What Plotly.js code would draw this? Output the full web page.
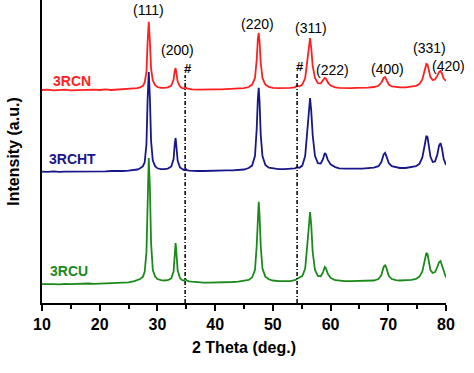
<!DOCTYPE html>
<html><head><meta charset="utf-8">
<script src="https://cdn.plot.ly/plotly-3.0.1.min.js"></script>
<style>html,body{margin:0;padding:0;background:#fff}#chart{width:474px;height:373px}</style>
</head><body><div id="chart"></div>
<script>
// 2 Theta grid (deg.)
const twoTheta = [10,11,12,13,14,15,16,17,18,19,20,21,22,23,24,25,26,26.5,27,27.5,27.8,28.1,28.3,28.5,28.7,28.9,29.2,29.6,30,30.6,31.2,31.8,32.4,32.8,33.0,33.15,33.3,33.5,33.9,34.3,34.6,34.85,35.1,35.5,36,37,38,39,40,41,42,43,44,45,45.8,46.4,46.9,47.2,47.4,47.55,47.7,47.9,48.2,48.7,49.3,50,51,52,53,53.8,54.2,54.6,55.1,55.6,55.95,56.25,56.45,56.65,56.9,57.3,57.8,58.3,58.7,59.0,59.2,59.5,60,60.8,61.5,62.5,63.5,64.5,65.5,66.5,67.5,68.3,68.8,69.2,69.45,69.7,70.1,70.6,71.3,72,73,74,74.8,75.4,75.9,76.3,76.6,76.8,77.0,77.3,77.7,78.1,78.5,78.8,79.05,79.3,79.6,80];

// Intensities (a.u., stacked as plotted)
const rcn = [71.0,71.1,70.9,71.0,71.1,70.9,71.0,71.1,71.0,71.1,71.0,71.2,71.0,71.1,71.2,71.3,71.4,71.6,71.9,72.4,73.6,77,87,93.7,87,78,74.2,72.6,72.0,71.7,71.7,71.9,72.5,74.5,77.5,78.3,76.5,73.8,72.2,71.6,71.5,72.0,71.5,71.3,71.2,71.1,71.2,71.1,71.2,71.2,71.3,71.3,71.4,71.6,72.0,72.8,75,81,88,90,87,80,75,72.8,72.0,71.7,71.6,71.6,71.7,71.9,72.4,72.2,72.8,75,81,87,88.3,85,79,75,73.3,73.2,74.2,75.0,74.8,73.6,72.5,71.9,71.7,71.6,71.6,71.7,71.7,71.8,72.0,72.4,73.5,75,75.3,74.4,72.8,72.2,72.0,71.9,71.9,72.1,72.4,73,74.5,77.5,79.7,79.5,77.5,75.3,74.3,74.5,75.8,77.0,77.3,76.5,74.8,74.0];
const rcht = [43.8,43.7,43.9,43.7,43.8,43.8,43.7,43.9,43.8,43.9,43.8,43.9,44.0,43.9,44.0,44.1,44.3,44.5,44.9,45.6,47,53,68,77,68,54,47.5,45.6,44.9,44.6,44.6,44.8,45.5,48,53,55,52,47.5,45.2,44.5,44.3,44.8,44.3,44.1,44.0,44.0,44.0,44.1,44.1,44.1,44.2,44.2,44.3,44.5,45.0,45.8,49,58,68,71.7,67,56,49,46,45.1,44.8,44.6,44.6,44.7,44.9,45.2,45.1,45.8,49,57,66,68.3,64,56,49,46.6,46.5,48,50,49.6,47.8,46.2,45.3,44.9,44.8,44.7,44.8,44.8,44.9,45.1,45.6,47,49.5,50,48.8,46.6,45.6,45.2,45.0,45.0,45.2,45.6,46.4,48.5,52.5,55.7,55.3,52.5,48.8,47.0,47.2,49.5,52.5,53.3,51.5,48,46.0];
const rcu = [6.3,6.4,6.3,6.2,6.4,6.3,6.4,6.3,6.5,6.4,6.5,6.5,6.6,6.7,6.8,6.9,7.3,7.6,8.0,8.8,10.5,17,35,48.3,38,20,11,8.8,8.0,7.6,7.5,7.6,8.2,10.5,16,20,16.5,11,8.3,7.6,7.5,8.0,7.5,7.2,7.1,6.9,6.8,6.8,6.8,6.8,6.9,7.0,7.1,7.3,7.7,8.5,11,19,30,33.7,29,19,11.5,8.8,7.9,7.5,7.3,7.2,7.3,7.6,8.2,8.5,9.0,11.5,19,28,30.3,26,17,11,9.0,8.9,10.3,12,11.6,9.8,8.4,7.6,7.4,7.3,7.3,7.3,7.3,7.4,7.5,8.0,9.3,12,12.7,11.5,9.0,8.0,7.6,7.5,7.5,7.7,8.0,8.8,10.5,14,16.7,16.3,14,11,10,10.3,12,13.6,14,12.5,10.5,8.5];

const sampleNames = ['3RCN','3RCHT','3RCU'];
const sampleColors = ['#ff1f1f','#17178a','#1b8a1b'];
const sampleLabelX = [15.2,15.2,14.6];
const sampleLabelY = [74,48,10.7];

const hklLabels = ['(111)','(200)','(220)','(311)','(222)','(400)','(331)','(420)'];
const hklX = [28.5,33.4,47.4,56.6,60.25,69.8,77.2,80.35];
const hklY = [97.7,84.3,93,91.7,77.7,78,85,79];

const impurityPeaks = [34.8,54.2];
const impurityTop = [76,77];
const impurityMarkY = [78.3,79];

const xRange = [10,80];
const font = 'Arial, "Liberation Sans", Helvetica, sans-serif';
const series = [rcn, rcht, rcu];
const traces = series.map((y,i)=>({x:twoTheta,y:y,type:'scatter',mode:'lines',
  line:{color:sampleColors[i],width:1.8},name:sampleNames[i],showlegend:false,hoverinfo:'skip'}));

const toPaperX = v => (v - xRange[0]) / (xRange[1] - xRange[0]);
const annotations = [];
sampleNames.forEach((n,i)=>annotations.push({x:sampleLabelX[i],y:sampleLabelY[i],xref:'x',yref:'y',text:n,showarrow:false,
  xanchor:'center',yanchor:'middle',font:{family:font,size:14,color:sampleColors[i],weight:'bold'}}));
hklLabels.forEach((t,i)=>annotations.push({x:toPaperX(hklX[i]),y:hklY[i],xref:'paper',yref:'y',text:t,showarrow:false,
  xanchor:'center',yanchor:'middle',font:{family:font,size:14,color:'#000'}}));
impurityPeaks.forEach((p,i)=>annotations.push({x:p+0.5,y:impurityMarkY[i],xref:'x',yref:'y',text:'#',showarrow:false,
  xanchor:'center',yanchor:'middle',font:{family:font,size:13,color:'#000',weight:'bold'}}));

const shapes = impurityPeaks.map((p,i)=>({type:'line',xref:'x',yref:'y',x0:p,x1:p,y0:0,y1:impurityTop[i],
  line:{color:'#000',width:1.5,dash:'4px,2px,1px,2px'}}));

const layout = {
  width:474,height:373,
  margin:{l:42,r:28,t:0,b:70},
  paper_bgcolor:'#fff',plot_bgcolor:'#fff',
  showlegend:false,
  xaxis:{range:xRange,tickvals:[10,20,30,40,50,60,70,80],ticks:'outside',ticklen:6,tickwidth:2,tickcolor:'#000',
    showline:true,linewidth:2,linecolor:'#000',showgrid:false,zeroline:false,
    minor:{dtick:5,tick0:10,ticks:'outside',ticklen:4,tickwidth:2,tickcolor:'#000',showgrid:false},
    tickfont:{family:font,size:16,color:'#000',weight:'bold'},
    title:{text:'2 Theta (deg.)',font:{family:font,size:16,color:'#000',weight:'bold'},standoff:10}},
  yaxis:{range:[0,101],showticklabels:false,ticks:'',showline:true,linewidth:2,linecolor:'#000',showgrid:false,zeroline:false,
    title:{text:'Intensity (a.u.)',font:{family:font,size:16,color:'#000',weight:'bold'},standoff:16}},
  annotations:annotations,shapes:shapes
};
Plotly.newPlot('chart',traces,layout,{displayModeBar:false,staticPlot:true});
</script></body></html>
